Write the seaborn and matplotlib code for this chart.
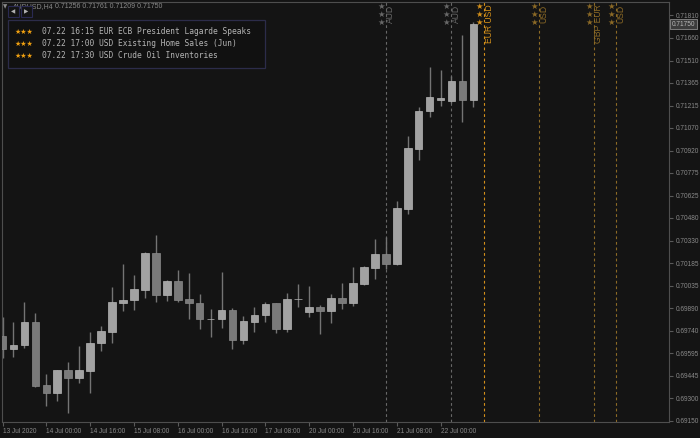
import numpy as np
import pandas as pd
import seaborn as sns
import matplotlib.pyplot as plt
from matplotlib import transforms
from matplotlib.patches import Rectangle

# AUDUSD H4 bars visible on the chart
opens = [0.69707, 0.69622, 0.69645, 0.69798, 0.69386, 0.69333, 0.69484, 0.69432, 0.69478, 0.69661,
         0.69733, 0.69923, 0.69943, 0.70008, 0.70250, 0.69975, 0.70067, 0.69949, 0.69923, 0.69818,
         0.69818, 0.69877, 0.69681, 0.69798, 0.69844, 0.69923, 0.69753, 0.69949, 0.69864, 0.69897,
         0.69871, 0.69956, 0.69923, 0.70047, 0.70152, 0.70244, 0.70178, 0.70539, 0.70932, 0.71180,
         0.71253, 0.71246, 0.71377, 0.71256]
highs = [0.69831, 0.69798, 0.69929, 0.69857, 0.69458, 0.69487, 0.69536, 0.69641, 0.69733, 0.69772,
         0.70028, 0.70178, 0.70106, 0.70257, 0.70368, 0.70074, 0.70139, 0.70119, 0.69982, 0.69884,
         0.70126, 0.69890, 0.69838, 0.69897, 0.69929, 0.69925, 0.69988, 0.70047, 0.70034, 0.69910,
         0.69982, 0.70054, 0.70159, 0.70165, 0.70342, 0.70355, 0.70591, 0.71017, 0.71207, 0.71469,
         0.71449, 0.71410, 0.71678, 0.71761]
lows = [0.69563, 0.69569, 0.69628, 0.69373, 0.69248, 0.69281, 0.69202, 0.69399, 0.69333, 0.69609,
        0.69661, 0.69871, 0.69877, 0.69956, 0.69929, 0.69936, 0.69929, 0.69818, 0.69753, 0.69700,
        0.69759, 0.69622, 0.69654, 0.69733, 0.69798, 0.69726, 0.69733, 0.69897, 0.69831, 0.69720,
        0.69792, 0.69884, 0.69903, 0.70041, 0.70080, 0.70146, 0.70175, 0.70506, 0.70860, 0.71141,
        0.71213, 0.71233, 0.71108, 0.71209]
closes = [0.69622, 0.69648, 0.69798, 0.69379, 0.69333, 0.69484, 0.69432, 0.69484, 0.69661, 0.69740,
          0.69929, 0.69943, 0.70015, 0.70250, 0.69975, 0.70067, 0.69943, 0.69923, 0.69818, 0.69818,
          0.69877, 0.69681, 0.69805, 0.69844, 0.69916, 0.69753, 0.69949, 0.69949, 0.69897, 0.69871,
          0.69956, 0.69923, 0.70054, 0.70159, 0.70244, 0.70178, 0.70545, 0.70938, 0.71180, 0.71272,
          0.71269, 0.71377, 0.71253, 0.71750]

time_ticks = [0, 4, 8, 12, 16, 20, 24, 28, 32, 36, 40]
time_labels = ['13 Jul 2020', '14 Jul 00:00', '14 Jul 16:00', '15 Jul 08:00', '16 Jul 00:00',
               '16 Jul 16:00', '17 Jul 08:00', '20 Jul 00:00', '20 Jul 16:00', '21 Jul 08:00',
               '22 Jul 00:00']
price_ticks = [0.71810, 0.71660, 0.71510, 0.71365, 0.71215, 0.71070, 0.70920, 0.70775, 0.70625,
               0.70480, 0.70330, 0.70185, 0.70035, 0.69890, 0.69740, 0.69595, 0.69445, 0.69300,
               0.69150]

event_bars = [35, 41, 44, 49, 54, 56]
event_names = ['AUD', 'AUD', 'EUR USD', 'USD', 'GBP EUR', 'USD']
event_state = ['past', 'past', 'now', 'next', 'next', 'next']

news = ['07.22 16:15 EUR ECB President Lagarde Speaks',
        '07.22 17:00 USD Existing Home Sales (Jun)',
        '07.22 17:30 USD Crude Oil Inventories']

symbol = 'AUDUSD,H4'
last_price = 0.71750

bg = '#141414'
bull_col, bear_col = '#a2a2a2', '#7a7a7a'
wick_col = '#747474'
state_col = {'past': '#686868', 'now': '#d4901a', 'next': '#8c6a26'}

sns.set_theme(style='dark', rc={
    'figure.facecolor': bg, 'axes.facecolor': bg, 'axes.edgecolor': '#4e4e4e',
    'axes.linewidth': 0.8, 'text.color': '#9a9a9a',
    'xtick.color': '#5a5a5a', 'ytick.color': '#5a5a5a',
    'xtick.labelcolor': '#8a8a8a', 'ytick.labelcolor': '#8a8a8a',
})
plt.rcParams['font.family'] = ['Liberation Sans', 'DejaVu Sans']

fig = plt.figure(figsize=(7, 4.38), dpi=100)
ax = fig.add_axes([2 / 700, 16 / 438, 667 / 700, 420 / 438])

df = pd.DataFrame({'open': opens, 'high': highs, 'low': lows, 'close': closes})
df['x'] = np.arange(len(df))
up = df['close'] >= df['open']
body_lo = df[['open', 'close']].min(axis=1)
body_h = (df['close'] - df['open']).abs().clip(lower=0.00002)

ax.vlines(df['x'], df['low'], df['high'], color=wick_col, lw=1.0, zorder=2)
ax.bar(df['x'], body_h, bottom=body_lo, width=0.7,
       color=np.where(up, bull_col, bear_col),
       edgecolor=np.where(up, '#b6b6b6', '#8a8a8a'), lw=0.5, zorder=3)

ax.set_xlim(-0.05, -0.05 + 667 / 10.95)
ax.set_ylim(0.691434, 0.718952)

ax.set_xticks(time_ticks)
ax.set_xticklabels(time_labels, ha='left')
ax.set_yticks(price_ticks)
ax.set_yticklabels([f'{p:.5f}' for p in price_ticks])
ax.yaxis.tick_right()
ax.tick_params(axis='x', bottom=True, length=3, width=0.8, labelsize=4.7, pad=1.5)
ax.tick_params(axis='y', right=True, left=False, length=3, width=0.8, labelsize=4.7, pad=1.5)
ax.grid(False)

# event markers
trans = transforms.blended_transform_factory(ax.transData, ax.transAxes)
for xb, name, st in zip(event_bars, event_names, event_state):
    c = state_col[st]
    ax.axvline(xb, color=c, lw=0.8, ls=(0, (2.5, 2.5)), zorder=1)
    for yy in [0.989, 0.970, 0.951]:
        ax.text(xb - 0.45, yy, '★', color=c, fontsize=6, ha='center', va='center',
                family='DejaVu Sans', transform=trans)
    ax.text(xb + 0.47, 0.994, name, color=c, fontsize=6.2, rotation=90,
            ha='center', va='top', transform=trans)

# current price tag
ptrans = transforms.blended_transform_factory(ax.transAxes, ax.transData)
ax.text(1.0 + 3 / 667, last_price, f'{last_price:.5f}', color='#b8b8b8', fontsize=4.7,
        ha='left', va='center', transform=ptrans, clip_on=False,
        bbox=dict(boxstyle='square,pad=0.25', fc='#3c3c3c', ec='#8a8a8a', lw=0.6))

# overlays in top-left pixel coordinates
px = transforms.Affine2D().scale(1 / 700, -1 / 438).translate(0, 1) + fig.transFigure

fig.text(5, 7, '▼', color='#8a8a8a', fontsize=4, va='center', ha='center',
         family='DejaVu Sans', transform=px)
fig.text(13, 7, symbol, color='#8a8a8a', fontsize=5, va='center', transform=px)
fig.text(55, 7, f'{opens[-1]:.5f} {highs[-1]:.5f} {lows[-1]:.5f} {closes[-1]:.5f}',
         color='#8a8a8a', fontsize=5, va='center', transform=px)

for x0, glyph in [(7.5, '◀'), (20.5, '▶')]:
    fig.patches.append(Rectangle((x0, 6), 11.5, 11, transform=px, fc=bg,
                                 ec='#2a2a52', lw=0.8, zorder=5))
    fig.text(x0 + 5.75, 11.5, glyph, color='#b0b0b0', fontsize=4, ha='center',
             va='center', family='DejaVu Sans', transform=px, zorder=6)

fig.patches.append(Rectangle((8, 20), 257, 48, transform=px, fc='#111111',
                             ec='#2c2c4a', lw=0.9, zorder=5))
for i, line in enumerate(news):
    y = 32 + 12 * i
    fig.text(15, y, '★★★', color='#f0a010', fontsize=5.0, va='center',
             family='DejaVu Sans', transform=px, zorder=6)
    fig.text(42, y, line, color='#b4b4b4', fontsize=5.7, va='center',
             family='DejaVu Sans Mono', transform=px, zorder=6)

fig.savefig('out.png', dpi=100, facecolor=bg)
